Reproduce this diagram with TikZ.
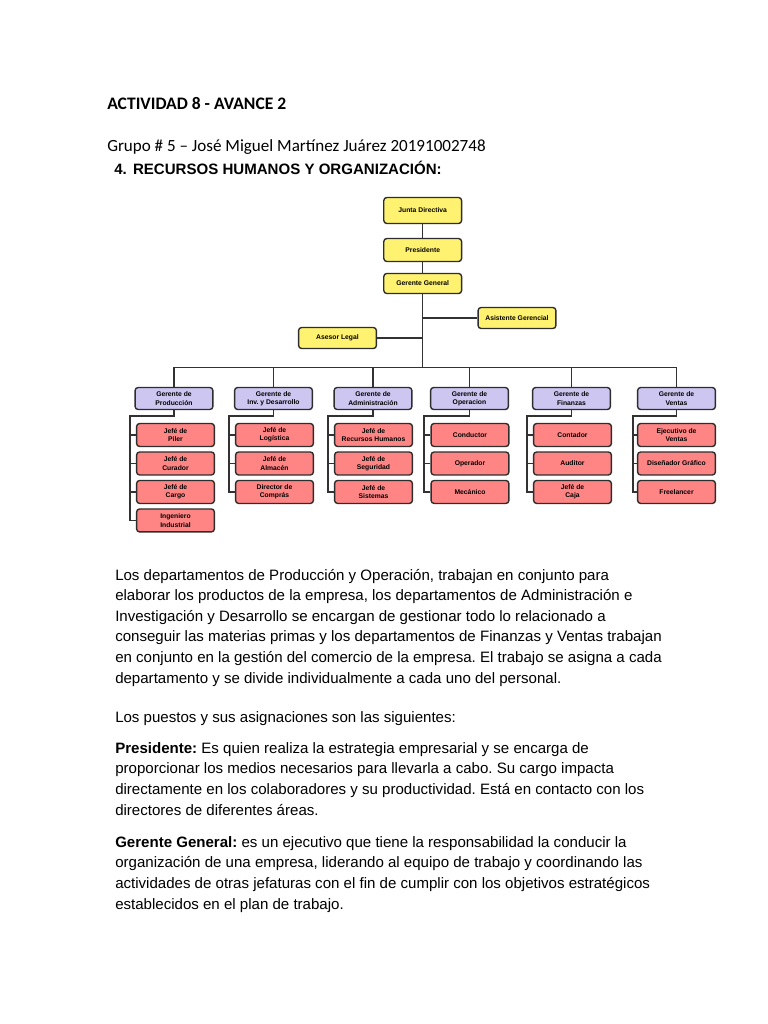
\documentclass[tikz,border=0pt]{standalone}
\usepackage{fontspec}
\setmainfont{Liberation Sans}
\newfontfamily\calibri{Carlito}
\usepackage{xcolor}
\usetikzlibrary{positioning}

\definecolor{yel}{RGB}{255,242,112}
\definecolor{lav}{RGB}{204,198,240}
\definecolor{pnk}{RGB}{255,133,133}
\definecolor{boxline}{RGB}{45,45,45}
\definecolor{linec}{RGB}{50,50,50}
\newcommand\chartfont{\fontsize{5.4}{6.6}\selectfont\bfseries}

\begin{document}
\frenchspacing
\begin{tikzpicture}[
    x=0.797pt, y=-0.797pt,
    node distance=3.3pt,
    box/.style={draw=boxline, line width=1.1pt, rounded corners=2.4pt, align=center, inner sep=1pt, font=\chartfont, minimum width=62pt},
    top/.style={box, fill=yel, minimum height=16.7pt},
    jefe/.style={box, fill=lav, minimum height=17.5pt},
    puesto/.style={box, fill=pnk, minimum height=18.3pt},
    link/.style={draw=linec, line width=0.9pt},
    para/.style={anchor=base west, align=left, inner sep=0pt, font=\fontsize{12}{16.4}\selectfont},
  ]
  \useasboundingbox[fill=white] (0,0) rectangle (768,1024);

  % headings
  \node[anchor=base west, inner sep=0pt, font=\calibri\fontsize{14}{16}\selectfont\bfseries] (act) at (107,109) {ACTIVIDAD 8 - AVANCE 2};
  \node[anchor=base west, inner sep=0pt, font=\calibri\fontsize{13.6}{16}\selectfont] (grupo) at (107,151.5) {Grupo \# 5 – José Miguel Martínez Juárez 20191002748};
  \node[anchor=base west, inner sep=0pt, font=\fontsize{12}{14}\selectfont\bfseries] (sec) at (114,174.3) {4.\hspace{5pt}RECURSOS HUMANOS Y ORGANIZACIÓN:};

  % upper levels
  \node[top, minimum height=20.7pt] (junta) at (422.7,210.5) {Junta Directiva};
  \node[top, minimum height=18.3pt] (pres) at (422.7,250) {Presidente};
  \node[top, minimum height=16pt] (gg) at (422.7,283.5) {Gerente General};
  \node[top] (asist) at (517,318) {Asistente Gerencial};
  \node[top] (asesor) at (337.5,338) {Asesor Legal};

  % gerentes
  \node[jefe] (gprod) at (174,398.5) {Gerente de\\Producción};
  \node[jefe] (ginv) at (273.5,398.5) {Gerente de\\Inv. y Desarrollo};
  \node[jefe] (gadm) at (373,398.5) {Gerente de\\Administración};
  \node[jefe] (gope) at (469.5,398.5) {Gerente de\\Operacion};
  \node[jefe] (gfin) at (571.5,398.5) {Gerente de\\Finanzas};
  \node[jefe] (gven) at (676.5,398.5) {Gerente de\\Ventas};

  % puestos
  \node[puesto] (prod1) at (175.5,435) {Jefé de\\Piler};
  \node[puesto, below=of prod1] (prod2) {Jefé de\\Curador};
  \node[puesto, below=of prod2] (prod3) {Jefé de\\Cargo};
  \node[puesto, below=of prod3] (prod4) {Ingeniero\\Industrial};

  \node[puesto] (inv1) at (274.5,435) {Jefé de\\Logística};
  \node[puesto, below=of inv1] (inv2) {Jefé de\\Almacén};
  \node[puesto, below=of inv2] (inv3) {Director de\\Comprás};

  \node[puesto] (adm1) at (373.5,435) {Jefé de\\Recursos Humanos};
  \node[puesto, below=of adm1] (adm2) {Jefé de\\Seguridad};
  \node[puesto, below=of adm2] (adm3) {Jefé de\\Sistemas};

  \node[puesto] (ope1) at (470,435) {Conductor};
  \node[puesto, below=of ope1] (ope2) {Operador};
  \node[puesto, below=of ope2] (ope3) {Mecánico};

  \node[puesto] (fin1) at (572.5,435) {Contador};
  \node[puesto, below=of fin1] (fin2) {Auditor};
  \node[puesto, below=of fin2] (fin3) {Jefé de\\Caja};

  \node[puesto] (ven1) at (676.5,435) {Ejecutivo de\\Ventas};
  \node[puesto, below=of ven1] (ven2) {Diseñador Gráfico};
  \node[puesto, below=of ven2] (ven3) {Freelancer};

  % lines of the chart
  \coordinate (bar) at (422.7,367.5);
  \draw[link] (junta) -- (pres);
  \draw[link] (pres) -- (gg);
  \draw[link] (gg.south) -- (bar);
  \draw[link] (asist.west) -- (asist.west -| gg.south);
  \draw[link] (asesor.east) -- (asesor.east -| gg.south);
  \draw[link] (gprod.north) |- (bar) -| (gven.north);
  \draw[link] (ginv.north) -- (ginv.north |- bar);
  \draw[link] (gadm.north) -- (gadm.north |- bar);
  \draw[link] (gope.north) -- (gope.north |- bar);
  \draw[link] (gfin.north) -- (gfin.north |- bar);

  \coordinate (bprod) at (130,416);
  \coordinate (binv) at (229,416);
  \coordinate (badm) at (328,416);
  \coordinate (bope) at (424,416);
  \coordinate (bfin) at (527,416);
  \coordinate (bven) at (633,416);

  \draw[link] (gprod.south) |- (bprod) |- (prod4.west);
  \draw[link] (bprod |- prod1.west) -- (prod1.west);
  \draw[link] (bprod |- prod2.west) -- (prod2.west);
  \draw[link] (bprod |- prod3.west) -- (prod3.west);

  \draw[link] (ginv.south) |- (binv) |- (inv3.west);
  \draw[link] (binv |- inv1.west) -- (inv1.west);
  \draw[link] (binv |- inv2.west) -- (inv2.west);

  \draw[link] (gadm.south) |- (badm) |- (adm3.west);
  \draw[link] (badm |- adm1.west) -- (adm1.west);
  \draw[link] (badm |- adm2.west) -- (adm2.west);

  \draw[link] (gope.south) |- (bope) |- (ope3.west);
  \draw[link] (bope |- ope1.west) -- (ope1.west);
  \draw[link] (bope |- ope2.west) -- (ope2.west);

  \draw[link] (gfin.south) |- (bfin) |- (fin3.west);
  \draw[link] (bfin |- fin1.west) -- (fin1.west);
  \draw[link] (bfin |- fin2.west) -- (fin2.west);

  \draw[link] (gven.south) |- (bven) |- (ven3.west);
  \draw[link] (bven |- ven1.west) -- (ven1.west);
  \draw[link] (bven |- ven2.west) -- (ven2.west);

  % text below the chart (base = last line)
  \node[para] (p1) at (115,683) {Los departamentos de Producción y Operación, trabajan en conjunto para\\
    elaborar los productos de la empresa, los departamentos de Administración e\\
    Investigación y Desarrollo se encargan de gestionar todo lo relacionado a\\
    conseguir las materias primas y los departamentos de Finanzas y Ventas trabajan\\
    en conjunto en la gestión del comercio de la empresa. El trabajo se asigna a cada\\
    departamento y se divide individualmente a cada uno del personal.};
  \node[para] (p2) at (115,722) {Los puestos y sus asignaciones son las siguientes:};
  \node[para] (p3) at (115,815) {\textbf{Presidente:} Es quien realiza la estrategia empresarial y se encarga de\\
    proporcionar los medios necesarios para llevarla a cabo. Su cargo impacta\\
    directamente en los colaboradores y su productividad. Está en contacto con los\\
    directores de diferentes áreas.};
  \node[para] (p4) at (115,909) {\textbf{Gerente General:} es un ejecutivo que tiene la responsabilidad la conducir la\\
    organización de una empresa, liderando al equipo de trabajo y coordinando las\\
    actividades de otras jefaturas con el fin de cumplir con los objetivos estratégicos\\
    establecidos en el plan de trabajo.};
\end{tikzpicture}
\end{document}
